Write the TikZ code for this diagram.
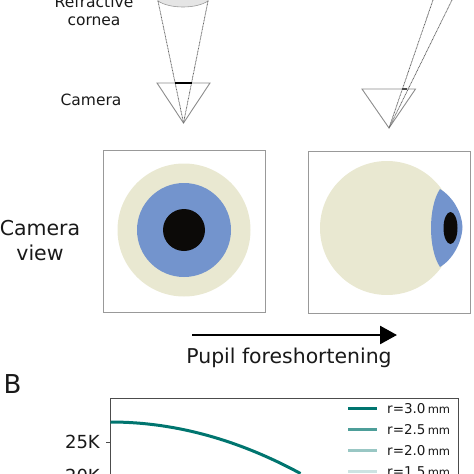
\documentclass[tikz,border=0pt]{standalone}
\usepackage{fontspec}
\setmainfont{DejaVu Sans}
\usetikzlibrary{arrows.meta}
\definecolor{sclera}{HTML}{E9E8D1}
\definecolor{iris}{HTML}{7394CD}
\definecolor{pupil}{HTML}{0C0A08}
\definecolor{tealA}{HTML}{00756F}
\definecolor{tealB}{HTML}{4D9E99}
\definecolor{tealC}{HTML}{99C7C4}
\definecolor{tealD}{HTML}{CCE3E2}
\tikzset{
  cam/.style={draw=black!45,line width=0.9pt,line join=miter},
  ray/.style={draw=black!60,line width=0.8pt,dash pattern=on 0.9pt off 0.6pt},
  framebox/.style={draw=black!40,line width=0.9pt},
  axisframe/.style={draw=black!70,line width=0.9pt},
  lab/.style={inner sep=0pt,font=\fontsize{15.5}{18}\selectfont,text=black!90},
  biglab/.style={inner sep=0pt,font=\fontsize{20.5}{24}\selectfont,text=black!90},
  legtxt/.style={inner sep=0pt,anchor=base west,font=\fontsize{13.5}{15}\selectfont,text=black!90},
  curve/.style={line width=3pt},
}
\newcommand{\mmunit}{\,{\fontsize{11.5}{12}\selectfont mm}}
\begin{document}
\begin{tikzpicture}[x=1pt,y=-1pt]
\useasboundingbox (0,0) rectangle (474,474);
\clip (0,0) rectangle (474,474);

% left camera and refracting cornea
\coordinate (apexL) at (183.5,123);
\coordinate (tlL) at (157,83);
\coordinate (trL) at (210,83);
\coordinate (corL) at (158,1);
\coordinate (corR) at (208,1);
\fill[black!10,draw=black!40,line width=0.6pt] (157,-3) -- (corL) .. controls (170,9) and (196,9) .. (corR) -- (209,-3) -- cycle;
\draw[cam] (tlL) -- (trL) -- (apexL) -- cycle;
\draw[ray] (corL) -- (apexL);
\draw[ray] (corR) -- (apexL);
\draw[black,line width=1.5pt] (175,83) -- (192,83);
\node[lab] (cornea1) at (94,1.5) {Refractive};
\node[lab] (cornea2) at (94,21) {cornea};
\node[lab] (camlab) at (91,99.5) {Camera};

% right camera, turned gaze
\coordinate (apexR) at (389,128);
\coordinate (tlR) at (362,89);
\coordinate (trR) at (415.5,89);
\coordinate (farA) at (433,0);
\coordinate (farB) at (452,0);
\draw[cam] (tlR) -- (trR) -- (apexR) -- cycle;
\draw[ray] (farA) -- (apexR);
\draw[ray] (farB) -- (apexR);
\draw[black!70,line width=1.5pt] (402,89) -- (407,89);

% camera view, frontal eye
\draw[framebox] (103,150) rectangle (265,312);
\fill[sclera] (184,230) circle (66.5);
\fill[iris] (184,230) circle (47);
\fill[pupil] (184,230) circle (21);

% camera view, oblique eye
\draw[framebox] (308,151) rectangle (470,313);
\fill[sclera] (387,228) circle (67);
\fill[iris] (440,189) .. controls (452,196) and (462,212) .. (462.5,227)
  .. controls (462,243) and (452,260) .. (440,267)
  .. controls (434,258) and (431,243) .. (431,228)
  .. controls (431,213) and (434,198) .. (440,189) -- cycle;
\fill[pupil] (450.5,228) ellipse (7 and 16);

\node[biglab] (view1) at (40,228) {Camera};
\node[biglab] (view2) at (40,253) {view};

% foreshortening arrow
\coordinate (arrowA) at (192,335);
\coordinate (arrowB) at (397,335);
\draw[black,line width=2.6pt,-{Triangle[length=17pt,width=18pt]}] (arrowA) -- (arrowB);
\node[inner sep=0pt,font=\fontsize{20.4}{24}\selectfont,text=black!90] (fore) at (289,358) {Pupil foreshortening};

% panel B
\node[inner sep=0pt,font=\fontsize{26}{30}\selectfont,text=black!90] (panelB) at (12.5,384) {B};
\draw[axisframe] (110.5,480) -- (110.5,398) -- (458.5,398) -- (458.5,480);
\draw[axisframe] (110.5,442) -- (105.5,442);
\draw[axisframe] (110.5,476) -- (105.5,476);
\node[inner sep=0pt,anchor=east,font=\fontsize{18}{21}\selectfont,text=black!90] (y25) at (100,442) {25K};
\node[inner sep=0pt,anchor=east,font=\fontsize{18}{21}\selectfont,text=black!90] (y20) at (100,476) {20K};
\draw[tealA,curve] (110.5,422) .. controls (173.8,422) and (237.2,439.2) .. (300.5,473.5);

% legend
\foreach \yy/\cc/\tt in {408/tealA/3.0,429/tealB/2.5,450/tealC/2.0,471/tealD/1.5}{
  \draw[\cc,curve] (348,\yy) -- (377,\yy);
  \node[legtxt] at (387,\yy+5) {r=\tt\mmunit};
}
\end{tikzpicture}
\end{document}
